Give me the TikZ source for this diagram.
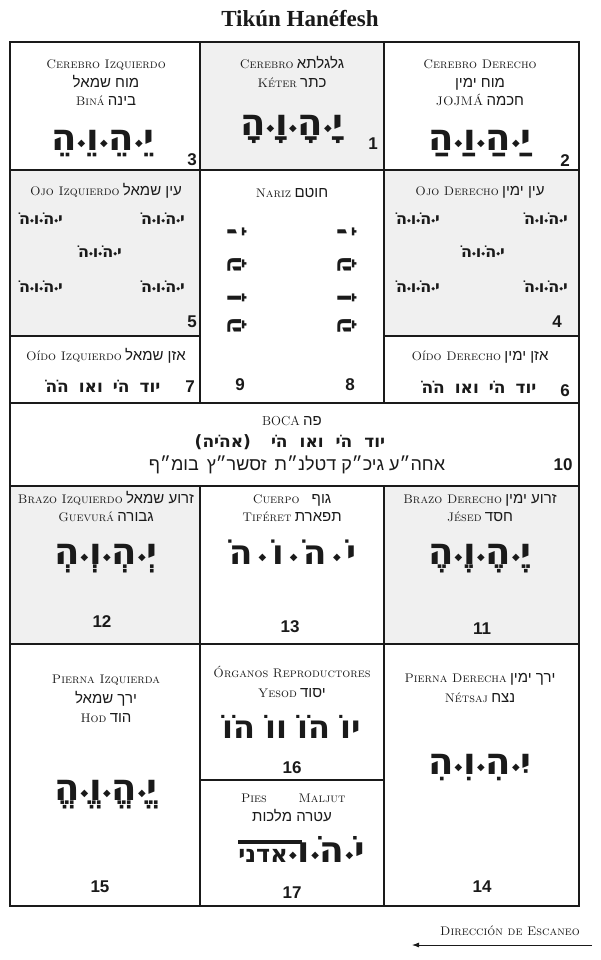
\documentclass[tikz,border=0pt]{standalone}
\usepackage{fontspec}
\usetikzlibrary{arrows.meta}
\TeXXeTstate=1
\newfontfamily\heb[Script=Hebrew]{Liberation Sans}
\newfontfamily\hebD[Script=Hebrew]{DejaVu Sans}
\newfontfamily\dej{DejaVu Sans}
\newfontfamily\numf{Liberation Sans}
\newfontfamily\titlef{Liberation Serif}
\definecolor{cellgray}{HTML}{F0F0F0}
\definecolor{ink}{HTML}{1A1A1A}
\newcommand\SC[1]{{\fontsize{12.5}{14}\selectfont\textsc{#1}}}
\newcommand\HL[1]{{\heb\fontsize{15}{17}\selectfont\beginR #1\endR}}
\newcommand\dd{\hspace{1pt}{\dej\fontsize{10}{10}\selectfont\raisebox{4pt}{◆}}\hspace{1pt}}
\newcommand\sdd{{\dej\fontsize{5}{5}\selectfont\raisebox{2pt}{◆}}}
\newcommand\YHVH[1]{י#1\dd ה#1\dd ו#1\dd ה#1}
\newcommand\BigY[1]{{\hebD\bfseries\fontsize{37}{40}\selectfont\beginR #1\endR}}
\newcommand\Eye{{\hebD\bfseries\fontsize{16}{20}\selectfont\beginR י\sdd ה^^^^05b9\sdd ו\sdd ה^^^^05b9\endR}}
\newcommand\EarT{{\hebD\bfseries\fontsize{17}{19}\selectfont\beginR יוד\hspace{10pt}ה^^^^05b9י\hspace{10pt}ואו\hspace{10pt}ה^^^^05b9ה^^^^05b9\endR}}
\begin{document}
\begin{tikzpicture}[x=1pt,y=-1pt,
  lab/.style={inner sep=0pt, anchor=base, text=ink},
  num/.style={inner sep=0pt, anchor=base, text=ink, font=\numf\bfseries\fontsize{17}{17}\selectfont},
  inner/.style={draw=ink, line width=1.8pt},
  outer/.style={draw=ink, line width=2.6pt},
  nose/.style={inner sep=0pt, text=ink, font=\hebD\bfseries\fontsize{25}{25}\selectfont}]
\useasboundingbox (0,0) rectangle (600,960);
\fill[white] (0,0) rectangle (600,960);
% gray cells
\fill[cellgray] (200,42) rectangle (384,170);
\fill[cellgray] (10,170) rectangle (200,336);
\fill[cellgray] (384,170) rectangle (579,336);
\fill[cellgray] (10,486) rectangle (200,644);
\fill[cellgray] (384,486) rectangle (579,644);
% grid
\draw[inner] (200,42) -- (200,403);
\draw[inner] (384,42) -- (384,403);
\draw[inner] (10,170) -- (579,170);
\draw[inner] (10,336) -- (200,336);
\draw[inner] (384,336) -- (579,336);
\draw[inner] (10,403) -- (579,403);
\draw[inner] (10,486) -- (579,486);
\draw[inner] (200,486) -- (200,906);
\draw[inner] (384,486) -- (384,906);
\draw[inner] (10,644) -- (579,644);
\draw[inner] (200,780) -- (384,780);
\draw[outer] (10,42) rectangle (579,906);
% title
\node[lab, font=\titlef\bfseries\fontsize{23}{25}\selectfont] (title) at (300,27) {Tikún Hanéfesh};
% cell 3
\node[lab] (c3a) at (106,69) {\SC{Cerebro Izquierdo}};
\node[lab] (c3b) at (106,88) {\HL{מוח שמאל}};
\node[lab] (c3c) at (106,106) {\SC{Biná} \HL{בינה}};
\node[lab] (c3y) at (103,151) {\BigY{\YHVH{^^^^05b5}}};
\node[num, anchor=base east] (n3) at (197,165) {3};
% cell 1
\node[lab] (c1a) at (292,69) {\SC{Cerebro} \HL{גלגלתא}};
\node[lab] (c1b) at (292,88) {\SC{Kéter} \HL{כתר}};
\node[lab] (c1y) at (292,136) {\BigY{\YHVH{^^^^05b8}}};
\node[num] (n1) at (373,150) {1};
% cell 2
\node[lab] (c2a) at (480,69) {\SC{Cerebro Derecho}};
\node[lab] (c2b) at (480,88) {\HL{מוח ימין}};
\node[lab] (c2c) at (480,106) {\SC{JOJMÁ} \HL{חכמה}};
\node[lab] (c2y) at (480,151) {\BigY{\YHVH{^^^^05b7}}};
\node[num] (n2) at (565,167) {2};
% cell 5 left eye
\node[lab] (c5a) at (106,195) {\SC{Ojo Izquierdo} \HL{עין שמאל}};
\node[lab] (c5y1) at (41,224) {\Eye};
\node[lab] (c5y2) at (163,224) {\Eye};
\node[lab] (c5y3) at (100,257) {\Eye};
\node[lab] (c5y4) at (41,292) {\Eye};
\node[lab] (c5y5) at (163,292) {\Eye};
\node[num, anchor=base east] (n5) at (197,327) {5};
% cell 4 right eye
\node[lab] (c4a) at (480,195) {\SC{Ojo Derecho} \HL{עין ימין}};
\node[lab] (c4y1) at (418,224) {\Eye};
\node[lab] (c4y2) at (546,224) {\Eye};
\node[lab] (c4y3) at (483,257) {\Eye};
\node[lab] (c4y4) at (418,292) {\Eye};
\node[lab] (c4y5) at (546,292) {\Eye};
\node[num] (n4) at (557,327) {4};
% ears
\node[lab] (c7a) at (106,360) {\SC{Oído Izquierdo} \HL{אזן שמאל}};
\node[lab] (c7t) at (103,392) {\EarT};
\node[num] (n7) at (190,392) {7};
\node[lab] (c6a) at (480,360) {\SC{Oído Derecho} \HL{אזן ימין}};
\node[lab] (c6t) at (479,393) {\EarT};
\node[num] (n6) at (565,396) {6};
% nose
\node[lab] (c9a) at (292,197) {\SC{Nariz} \HL{חוטם}};
\node[nose, rotate=90] (nl1) at (237,232) {י^^^^05b8};
\node[nose, rotate=90] (nl2) at (237,265) {ה^^^^05b8};
\node[nose, rotate=90] (nl3) at (237,298) {ו^^^^05b8};
\node[nose, rotate=90] (nl4) at (237,326) {ה^^^^05b8};
\node[nose, rotate=90] (nr1) at (347,232) {י^^^^05b8};
\node[nose, rotate=90] (nr2) at (347,265) {ה^^^^05b8};
\node[nose, rotate=90] (nr3) at (347,298) {ו^^^^05b8};
\node[nose, rotate=90] (nr4) at (347,326) {ה^^^^05b8};
\node[num] (n9) at (240,390) {9};
\node[num] (n8) at (350,390) {8};
% boca
\node[lab] (c10a) at (292,425) {{\fontsize{13}{14}\selectfont BOCA} \HL{פה}};
\node[lab] (c10b) at (290,447) {{\hebD\bfseries\fontsize{17}{19}\selectfont\beginR יוד\hspace{12pt}ה^^^^05b9י\hspace{12pt}ואו\hspace{12pt}ה^^^^05b9י\hspace{20pt}(אה^^^^05b9יה)\endR}};
\node[lab] (c10c) at (297,470) {{\heb\fontsize{18}{19}\selectfont\beginR אחה״ע גיכ״ק דטלנ״ת\hspace{8pt}זסשר״ץ\hspace{8pt}בומ״ף\endR}};
\node[num] (n10) at (563,470) {10};
% cell 12
\node[lab] (c12a) at (106,503) {\SC{Brazo Izquierdo} \HL{זרוע שמאל}};
\node[lab] (c12b) at (106,521) {\SC{Guevurá} \HL{גבורה}};
\node[lab] (c12y) at (106,564) {\BigY{\YHVH{^^^^05b0}}};
\node[num] (n12) at (102,627) {12};
% cell 13
\node[lab] (c13a) at (292,503) {\SC{Cuerpo}\hspace{12pt}\HL{גוף}};
\node[lab] (c13b) at (292,521) {\SC{Tiféret} \HL{תפארת}};
\node[lab] (c13y) at (293,564) {{\hebD\bfseries\fontsize{34}{40}\selectfont\beginR י^^^^05b9\hspace{5pt}\dd\hspace{5pt}ה^^^^05b9\hspace{5pt}\dd\hspace{5pt}ו^^^^05b9\hspace{5pt}\dd\hspace{5pt}ה^^^^05b9\endR}};
\node[num] (n13) at (290,632) {13};
% cell 11
\node[lab] (c11a) at (480,503) {\SC{Brazo Derecho} \HL{זרוע ימין}};
\node[lab] (c11b) at (480,521) {\SC{Jésed} \HL{חסד}};
\node[lab] (c11y) at (480,564) {\BigY{\YHVH{^^^^05b6}}};
\node[num] (n11) at (482,634) {11};
% cell 15
\node[lab] (c15a) at (106,683) {\SC{Pierna Izquierda}};
\node[lab] (c15b) at (106,703) {\HL{ירך שמאל}};
\node[lab] (c15c) at (106,722) {\SC{Hod} \HL{הוד}};
\node[lab] (c15y) at (106,800) {\BigY{\YHVH{^^^^05b1}}};
\node[num] (n15) at (100,892) {15};
% cell 16
\node[lab] (c16a) at (292,677) {\SC{Órganos Reproductores}};
\node[lab] (c16b) at (292,697) {\SC{Yesod} \HL{יסוד}};
\node[lab] (c16y) at (292,738) {{\hebD\bfseries\fontsize{32}{40}\selectfont\beginR יו^^^^05b9\hspace{10pt}ה^^^^05b9ו^^^^05b9\hspace{10pt}וו^^^^05b9\hspace{10pt}ה^^^^05b9ו^^^^05b9\endR}};
\node[num] (n16) at (292,773) {16};
% cell 17
\node[lab] (c17a) at (254,802) {\SC{Pies}};
\node[lab] (c17b) at (322,802) {\SC{Maljut}};
\node[lab] (c17c) at (292,821) {\HL{עטרה מלכות}};
\node[lab, anchor=base west] (c17r) at (288,862) {{\hebD\bfseries\fontsize{36}{40}\selectfont\beginR י^^^^05b9\dd ה^^^^05b9\dd ו\dd\endR}};
\node[lab, anchor=base east] (c17l) at (288,862) {{\hebD\bfseries\fontsize{24}{26}\selectfont\beginR אדני\endR}};
\draw[ink, line width=4.5pt] ([yshift=20pt]c17l.base west) -- ([yshift=20pt,xshift=14pt]c17l.base east);
\node[num] (n17) at (292,898) {17};
% cell 14
\node[lab] (c14a) at (480,682) {\SC{Pierna Derecha} \HL{ירך ימין}};
\node[lab] (c14b) at (480,702) {\SC{Nétsaj} \HL{נצח}};
\node[lab] (c14y) at (480,774) {\BigY{\YHVH{^^^^05b4}}};
\node[num] (n14) at (482,892) {14};
% scan direction
\node[lab] (scan) at (510,935) {\SC{Dirección de Escaneo}};
\coordinate (aS) at (592,945);
\coordinate (aE) at (412,945);
\draw[ink, line width=0.8pt, -{Latex[length=7pt,width=5pt]}] (aS) -- (aE);
\end{tikzpicture}
\end{document}
